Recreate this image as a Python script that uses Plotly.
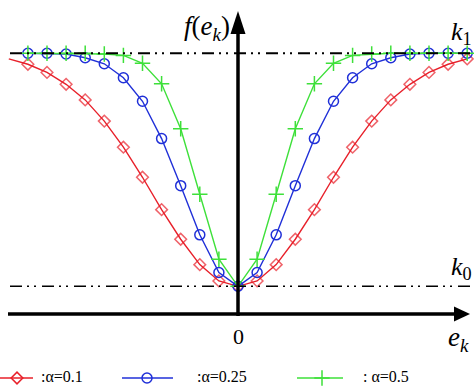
import plotly.graph_objects as go

# ---- data ----
e_red = [-12, -11, -10, -9, -8, -7, -6, -5, -4, -3, -2, -1, 0, 1, 2, 3, 4, 5, 6, 7, 8, 9, 10, 11, 12]
f_red = [0.976, 0.953, 0.918, 0.867, 0.800, 0.709, 0.597, 0.468, 0.329, 0.202, 0.093, 0.023, 0.0,
         0.023, 0.093, 0.202, 0.329, 0.468, 0.597, 0.709, 0.800, 0.867, 0.918, 0.953, 0.976]
e_blue = [-11, -10, -9, -8, -7, -6, -5, -4, -3, -2, -1, 0, 1, 2, 3, 4, 5, 6, 7, 8, 9, 10, 11, 12]
f_blue = [1.0, 1.0, 0.997, 0.981, 0.955, 0.895, 0.794, 0.634, 0.432, 0.221, 0.059, 0.0,
          0.059, 0.221, 0.432, 0.634, 0.794, 0.895, 0.955, 0.981, 0.997, 1.0, 1.0, 1.0]
e_green = [-11, -10, -9, -8, -7, -6, -5, -4, -3, -2, -1, 0, 1, 2, 3, 4, 5, 6, 7, 8, 9, 10, 11, 12]
f_green = [1.0, 1.0, 1.0, 1.0, 0.997, 0.991, 0.957, 0.869, 0.676, 0.395, 0.116, 0.0,
           0.116, 0.395, 0.676, 0.869, 0.957, 0.991, 0.997, 1.0, 1.0, 1.0, 1.0, 1.0]
k0 = 0.0
k1 = 1.0
legend_labels = [":α=0.1", ":α=0.25", ": α=0.5"]

W, H = 474, 387
X0, XS = 238.0, 19.1      # pixel of e=0, pixels per unit
Y0, YS = 286.3, 233.0     # pixel of f=k0, pixels per unit


def dx(p):
    return (p - X0) / XS


def dy(p):
    return (Y0 - p) / YS


RED, BLUE, GREEN = "#e8202a", "#2030d8", "#3ee03a"

fig = go.Figure()

red_sizes = [0] + [9] * (len(e_red) - 1)
fig.add_trace(go.Scatter(x=e_red, y=f_red, mode="lines+markers",
                         line=dict(color=RED, width=1.4),
                         marker=dict(symbol="diamond-open", size=red_sizes, color=RED,
                                     line=dict(width=1.5, color=RED))))
fig.add_trace(go.Scatter(x=e_blue, y=f_blue, mode="lines+markers",
                         line=dict(color=BLUE, width=1.4),
                         marker=dict(symbol="circle-open", size=10, color=BLUE,
                                     line=dict(width=1.5, color=BLUE))))
fig.add_trace(go.Scatter(x=e_green, y=f_green, mode="lines+markers",
                         line=dict(color=GREEN, width=1.4),
                         marker=dict(symbol="cross-thin-open", size=11, color=GREEN,
                                     line=dict(width=1.5, color=GREEN))))

shapes = []
dash = "12px,5px,2px,5px,2px,6px"
for kv, w in [(k1, 2), (k0, 1.5)]:
    shapes.append(dict(type="line", x0=dx(10), x1=dx(474), y0=kv, y1=kv,
                       line=dict(color="black", width=w, dash=dash), layer="above"))
# axes
shapes.append(dict(type="line", x0=dx(8), x1=dx(458), y0=dy(314), y1=dy(314),
                   line=dict(color="black", width=3.5)))
shapes.append(dict(type="line", x0=0, x1=0, y0=dy(316), y1=dy(30),
                   line=dict(color="black", width=3.5)))
# arrow heads
shapes.append(dict(type="path",
                   path=f"M {dx(470)} {dy(314)} L {dx(454)} {dy(306.5)} L {dx(454)} {dy(321.5)} Z",
                   fillcolor="black", line=dict(color="black", width=0)))
shapes.append(dict(type="path",
                   path=f"M {dx(238)} {dy(11)} L {dx(230.5)} {dy(34)} L {dx(245.5)} {dy(34)} Z",
                   fillcolor="black", line=dict(color="black", width=0)))

# legend samples
leg_y = dy(378)
leg = [(0, 33, 17, RED, "diamond-open", 9), (122, 173, 147, BLUE, "circle-open", 10),
       (297, 343, 322, GREEN, "cross-thin-open", 11)]
for (a, b, m, col, sym, sz) in leg:
    shapes.append(dict(type="line", x0=dx(a), x1=dx(b), y0=leg_y, y1=leg_y,
                       line=dict(color=col, width=1.4)))
    fig.add_trace(go.Scatter(x=[dx(m)], y=[leg_y], mode="markers",
                             marker=dict(symbol=sym, size=sz, color=col,
                                         line=dict(width=1.5, color=col))))

SERIF = "Liberation Serif"
ann = []


def txt(x, y, t, size, anchor="center"):
    ann.append(dict(x=dx(x), y=dy(y), text=t, showarrow=False, xanchor=anchor, yanchor="middle",
                    font=dict(family=SERIF, size=size, color="black")))


txt(207, 28, "<i>f</i>(<i>e</i><sub><i>k</i></sub>)", 27)
txt(461, 33, "<i>k</i><sub>1</sub>", 26)
txt(461, 268, "<i>k</i><sub>0</sub>", 26)
txt(238, 336, "0", 22)
txt(458, 339, "<i>e</i><sub><i>k</i></sub>", 27)
txt(39, 376, legend_labels[0], 16, "left")
txt(195, 376, legend_labels[1], 16, "left")
txt(361, 376, legend_labels[2], 16, "left")

fig.update_layout(
    width=W, height=H, margin=dict(l=0, r=0, t=0, b=0),
    paper_bgcolor="white", plot_bgcolor="white", showlegend=False,
    xaxis=dict(range=[dx(0), dx(W)], visible=False, fixedrange=True),
    yaxis=dict(range=[dy(H), dy(0)], visible=False, fixedrange=True),
    shapes=shapes, annotations=ann,
)
fig.write_html("out.html", config={"displayModeBar": False},
               post_script="document.body.style.margin='0';document.body.style.overflow='hidden';")
